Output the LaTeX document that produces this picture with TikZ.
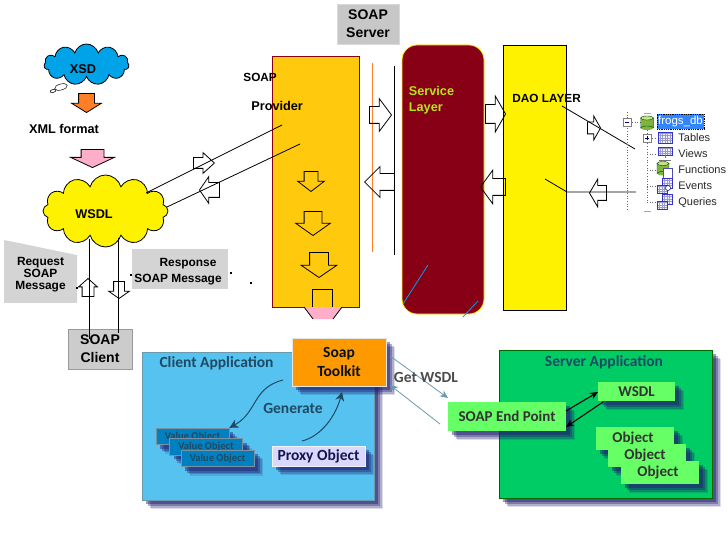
\documentclass[tikz,border=0pt]{standalone}
\usepackage{fontspec}
\setmainfont{Liberation Sans}
\newfontfamily\calfont{Carlito}
\usetikzlibrary{shapes.symbols,shapes.arrows,shapes.geometric,shadows,arrows.meta}
\definecolor{xsdblue}{HTML}{00A2E8}
\definecolor{wsdlyellow}{HTML}{FFF200}
\definecolor{provorange}{HTML}{FFC90E}
\definecolor{maroon}{HTML}{880015}
\definecolor{lime}{HTML}{B5E61D}
\definecolor{pinky}{HTML}{FFAEC9}
\definecolor{orangey}{HTML}{FF7F27}
\definecolor{skyapp}{HTML}{56C2F0}
\definecolor{darkteal}{HTML}{1F4A63}
\definecolor{greenapp}{HTML}{00CC66}
\definecolor{lightgreen}{HTML}{66FF66}
\definecolor{steel}{HTML}{6A9AAE}
\definecolor{navyshade}{HTML}{1E1E6E}
\definecolor{toolorange}{HTML}{FF9900}
\definecolor{valblue}{HTML}{0080C0}
\definecolor{drumgreen}{HTML}{7FB53C}
\definecolor{drumtop}{HTML}{C4E08A}
\tikzstyle{lbl} = [font=\bfseries\fontsize{12.7}{14}\selectfont, inner sep=0pt, align=center]
\tikzstyle{caps} = [lbl, font=\bfseries\fontsize{11.8}{14}\selectfont]
\tikzstyle{msg} = [lbl, font=\bfseries\fontsize{11.9}{12}\selectfont]
\tikzstyle{grey} = [draw=gray!80, fill=black!20, font=\bfseries\fontsize{14}{18}\selectfont, align=center, inner sep=0pt]
\tikzstyle{note} = [fill=black!17, draw=none]
\tikzstyle{app} = [font=\calfont\bfseries\fontsize{15.5}{17}\selectfont, text=darkteal, inner sep=0pt, align=center]
\tikzstyle{shade} = [general shadow={shadow xshift=9pt, shadow yshift=-9pt, fill=navyshade, opacity=.15},
  general shadow={shadow xshift=7.5pt, shadow yshift=-7.5pt, fill=navyshade, opacity=.25},
  general shadow={shadow xshift=6pt, shadow yshift=-6pt, fill=navyshade, opacity=.35},
  general shadow={shadow xshift=4pt, shadow yshift=-4pt, fill=navyshade, opacity=.45}]
\tikzstyle{greenbox} = [fill=lightgreen, draw=none, inner sep=0pt, text=black!80, font=\calfont\bfseries\fontsize{15}{17}\selectfont, shade]
\tikzstyle{valbox} = [fill=valblue, draw=darkteal!60, inner sep=0pt, minimum width=73pt, minimum height=16.5pt, text=darkteal, font=\calfont\bfseries\fontsize{10.5}{12}\selectfont, shade]
\tikzstyle{tree} = [font=\fontsize{11}{13}\selectfont, anchor=west, inner sep=0pt, text=black!85, text height=9pt, text depth=1pt]
\tikzstyle{dots} = [dotted, black!60, line width=.7pt]
\tikzstyle{tbl} = [draw=blue!60!gray, fill=blue!5, inner sep=0pt, line width=.5pt, path picture={\draw[blue!30!gray!60, line width=.4pt, step=2.5pt] (path picture bounding box.south west) grid (path picture bounding box.north east);}]
\tikzset{blockarrow/.style n args={4}{single arrow, draw=black, inner xsep=0pt, inner ysep={(#2-2*#4)/2}, minimum height=#1, minimum width=#2, single arrow tip angle={2*atan(#2/(2*#3))}, single arrow head extend=#4}}
% small database drum of the tree
\newcommand{\dbdrum}[3]{
  \fill[drumgreen] (#1-#3,#2-5) rectangle (#1+#3,#2+5);
  \fill[drumgreen] (#1,#2+5) ellipse ({#3} and 2);
  \fill[drumtop] (#1,#2-5) ellipse ({#3} and 2);
  \draw[green!30!black,line width=.4pt] (#1-#3,#2-5) -- (#1-#3,#2+5) arc (180:360:#3 and 2) -- (#1+#3,#2-5);
  \draw[green!30!black,line width=.4pt] (#1,#2-5) ellipse ({#3} and 2);
}
\begin{document}
\begin{tikzpicture}[x=1pt,y=-1pt,line width=.8pt]
  \useasboundingbox (0,0) rectangle (728,545);
  % layers
  \node[draw=maroon,fill=provorange,minimum width=87pt,minimum height=251pt,inner sep=0pt](provider) at (315.5,181.5){};
  \node[draw=wsdlyellow,fill=maroon,rounded corners=15pt,thick,minimum width=82pt,minimum height=269pt,inner sep=0pt](service) at (443,179.5){};
  \node[draw=black,fill=wsdlyellow,minimum width=63pt,minimum height=265pt,inner sep=0pt](dao) at (534.5,177.5){};
  \node[grey,fill=black!22,draw=black!15,minimum width=62pt,minimum height=40pt](server) at (368,24){SOAP\\Server};
  \node[caps,anchor=west](soap) at (243,77){SOAP};
  \node[lbl,anchor=west](prov) at (251,106){Provider};
  \node[lbl,anchor=west,text=lime](slayer) at (408.5,90.5){Service};
  \node[lbl,anchor=west,text=lime](slayer2) at (408.5,108.5){Layer};
  \node[caps,anchor=west](daotxt) at (512,98){DAO LAYER};
  % clouds
  \node[cloud,cloud puffs=11,cloud ignores aspect,draw=black,fill=xsdblue,minimum width=85pt,minimum height=41pt,inner sep=0pt](xsd) at (86.5,64.5){};
  \node[ellipse,draw=black,fill=white,line width=.5pt,minimum width=13pt,minimum height=6pt,inner sep=0pt,rotate=15](bub1) at (61,87){};
  \node[ellipse,draw=black,fill=white,line width=.5pt,minimum width=6pt,minimum height=3pt,inner sep=0pt,rotate=15](bub2) at (53,91){};
  \node[lbl](xsdtxt) at (83,69){XSD};
  \node[cloud,cloud puffs=12,cloud ignores aspect,draw=black,fill=wsdlyellow,minimum width=125pt,minimum height=72pt,inner sep=0pt](wsdl) at (105.5,211){};
  \node[lbl](wsdltxt) at (94,214){WSDL};
  \node[lbl](xmlfmt) at (64,129){XML format};
  \node[blockarrow={19}{29}{9}{7},fill=orangey,rotate=-90,anchor=tip](xsdarrow) at (86.5,113){};
  \node[blockarrow={18}{43}{10}{10.5},fill=pinky,rotate=-90,anchor=tip](xmlarrow) at (92.5,168){};
  % soap messages
  \fill[black!17] (4,240) -- (77,255) -- (77,303) -- (4,303) -- cycle;
  \node[msg](reqtxt) at (40.5,275){Request\\SOAP\\Message};
  \node[note,minimum width=96pt,minimum height=40pt,inner sep=0pt](resp) at (180,269){};
  \node[msg](resp1) at (188,264){Response};
  \node[msg](resp2) at (178,280){SOAP Message};
  \foreach \px/\py in {77/288,131/275,231/273,251/283}
    \fill (\px-.7,\py-.7) rectangle (\px+.7,\py+.7);
  \node[grey,minimum width=64pt,minimum height=40pt](client) at (100,349){SOAP\\Client};
  % lines
  \coordinate (wa) at (146,193);
  \coordinate (pa) at (282,125);
  \coordinate (wb) at (167,207);
  \coordinate (pb) at (300,144);
  \draw (wa)--(pa);
  \draw (wb)--(pb);
  \coordinate (ca) at (89,339);
  \coordinate (wc) at (89,239);
  \coordinate (cb) at (118,333);
  \coordinate (wd) at (118,238);
  \draw (wc)--(ca);
  \draw (wd)--(cb);
  \coordinate (oa) at (372,63);
  \coordinate (ob) at (372,252);
  \coordinate (ba) at (394,66);
  \coordinate (bb) at (394,255);
  \draw[orangey] (oa)--(ob);
  \draw (ba)--(bb);
  \coordinate (ta) at (562,106);
  \coordinate (tb) at (635,149);
  \coordinate (tc) at (545,179);
  \coordinate (td) at (567,192);
  \coordinate (te) at (636,192);
  \draw (ta)--(tb);
  \draw (tc)--(td)--(te);
  \coordinate (ua) at (428,265);
  \coordinate (ub) at (403,304);
  \coordinate (uc) at (478,301);
  \coordinate (ud) at (463,317);
  \draw[xsdblue] (ua)--(ub);
  \draw[xsdblue] (uc)--(ud);
  % hollow block arrows
  \node[blockarrow={21}{20}{11}{5},anchor=tip](ar1) at (215,163){};
  \node[blockarrow={20}{26}{9}{6},rotate=180,anchor=tip](ar2) at (199,190){};
  \node[blockarrow={22}{32}{12}{8},anchor=tip](ar3) at (392,115){};
  \node[blockarrow={30}{30}{15}{7},rotate=180,anchor=tip](ar4) at (364,182){};
  \node[blockarrow={20}{35}{10}{8.5},anchor=tip](ar5) at (506,114){};
  \node[blockarrow={25}{33}{12}{8.5},rotate=180,anchor=tip](ar6) at (480,187){};
  \node[blockarrow={13}{23}{6.5}{6},anchor=tip](ar7) at (601,128){};
  \node[blockarrow={17}{27}{8}{6.5},rotate=180,anchor=tip](ar8) at (589,193){};
  \node[blockarrow={20}{26}{10}{6.5},rotate=-90,anchor=tip](ar9) at (311,192){};
  \node[blockarrow={24}{34}{12}{8.5},rotate=-90,anchor=tip](ar10) at (313,236){};
  \node[blockarrow={25}{35}{12}{8.5},rotate=-90,anchor=tip](ar11) at (319,278){};
  \node[blockarrow={18}{18}{8}{3.5},rotate=90,anchor=tip](ar12) at (88,278){};
  \node[blockarrow={17}{20}{7}{5},rotate=-90,anchor=tip](ar13) at (119,299){};
  % cut off arrow under the provider
  \fill[pinky] (304,307) -- (342,307) -- (333,319) -- (313,319) -- cycle;
  \draw (304,307) -- (313,319);
  \draw (342,307) -- (333,319);
  \draw (312,307) -- (312,289) -- (332,289) -- (332,307);
  % client application
  \node[draw=steel,fill=skyapp,shade,minimum width=232pt,minimum height=148pt,inner sep=0pt](clientapp) at (258,426){};
  \node[app](clienttxt) at (216.5,363){Client Application};
  \node[draw=black!10,fill=toolorange,shade,minimum width=94pt,minimum height=48pt,inner sep=0pt,app,text=black!80!darkteal](toolkit) at (339,362){Soap\\[2pt]Toolkit};
  \node[app](gentxt) at (293,408){Generate};
  \node[valbox](vo1) at (192.5,436.5){Value Object};
  \node[valbox](vo2) at (206,447){Value Object};
  \node[valbox](vo3) at (217.5,458.5){Value Object};
  \node[draw=black!5,fill=blue!15,shade,minimum width=93pt,minimum height=20pt,inner sep=0pt,app,text=navyshade!70!black](proxy) at (318.5,456){Proxy Object};
  \coordinate (gs) at (283,380);
  \coordinate (ps) at (302,441);
  \coordinate (pe) at (342,392);
  \draw[-{Stealth[length=9pt,width=9pt]},darkteal,line width=1pt] (gs) .. controls (252,388) and (258,412) .. (vo1.north east);
  \draw[-{Stealth[length=9pt,width=9pt]},darkteal,line width=1pt] (ps) .. controls (322,436) and (336,415) .. (pe);
  % server application
  \node[draw=green!40!black,fill=greenapp,shade,minimum width=213pt,minimum height=148pt,inner sep=0pt](serverapp) at (605.5,424){};
  \node[app](servertxt) at (604,362){Server Application};
  \node[greenbox,minimum width=118pt,minimum height=29pt](endpoint) at (507,416.5){SOAP End Point};
  \node[greenbox,minimum width=77pt,minimum height=19pt](wsdlbox) at (636.5,391.5){WSDL};
  \node[greenbox,minimum width=78pt,minimum height=23pt](obj1) at (635,438.5){\hspace*{-4pt}Object};
  \node[greenbox,minimum width=78pt,minimum height=23pt](obj2) at (647,455.5){\hspace*{-4pt}Object};
  \node[greenbox,minimum width=78pt,minimum height=23pt](obj3) at (660,472.5){\hspace*{-4pt}Object};
  \coordinate (ea) at (566,411);
  \coordinate (eb) at (598,392);
  \coordinate (ec) at (603,402);
  \coordinate (ed) at (566,427);
  \draw[-{Stealth[length=8pt,width=7pt]},line width=1.1pt] (ea)--(eb);
  \draw[-{Stealth[length=8pt,width=7pt]},line width=1.1pt] (ec)--(ed);
  \coordinate (ga) at (390,356);
  \coordinate (gb) at (448,398);
  \coordinate (gc) at (440,424);
  \coordinate (gd) at (390,385);
  \draw[-{Stealth[length=8pt,width=7pt]},steel] (ga)--(gb);
  \draw[-{Stealth[length=8pt,width=7pt]},steel] (gc)--(gd);
  \node[app,text=black!70](getwsdl) at (426,377){Get WSDL};
  % database tree
  \draw[dots] (627,112)--(627,211);
  \draw[dots] (632,122)--(641,122);
  \draw[dots] (647,130)--(647,202);
  \foreach \ty in {138,154,170,186,202}
    \draw[dots] (647,\ty)--(658,\ty);
  \draw[black!35] (644,113)--(651,113);
  \draw[black!35] (644,211)--(651,211);
  \node[draw=black!50,fill=white,line width=.5pt,minimum size=8pt,inner sep=0pt](minus) at (627,122){};
  \draw[blue!50!black,line width=.5pt] (624.8,122)--(629.2,122);
  \node[draw=black!50,fill=white,line width=.5pt,minimum size=8pt,inner sep=0pt](plus) at (647,138){};
  \draw[blue!50!black,line width=.5pt] (644.8,138)--(649.2,138) (647,135.8)--(647,140.2);
  \dbdrum{647}{123}{6.5}
  \node[fill=blue!60!cyan!80,draw=black,densely dotted,minimum width=47pt,minimum height=15pt,inner sep=0pt,text=white,font=\fontsize{11.5}{13}\selectfont](frogs) at (680.5,121.5){frogs\_db};
  \node[tbl,minimum width=14pt,minimum height=11pt](ticon) at (665,138){};
  \node[tbl,minimum width=14pt,minimum height=8pt](vicon) at (665,151){};
  \draw[black!55,line width=.6pt] (665,155)--(665,158) (659,160)--(671,160);
  \dbdrum{663}{168.5}{6}
  \node[draw=blue!40!gray,fill=white,line width=.5pt,minimum width=9pt,minimum height=10pt,inner sep=0pt](fdoc) at (667.5,173){};
  \node[tbl,minimum width=10pt,minimum height=10pt](eicon) at (667,183){};
  \node[tbl,minimum width=10pt,minimum height=8pt](eicon2) at (662,189){};
  \node[circle,draw=blue!50!black,fill=white,line width=.5pt,minimum size=5pt,inner sep=0pt](gear) at (668,188){};
  \node[tbl,minimum width=10pt,minimum height=10pt](qicon) at (667,199){};
  \node[tbl,minimum width=10pt,minimum height=8pt](qicon2) at (662,205){};
  \node[tree](tables) at (678,138){Tables};
  \node[tree](views) at (678,154){Views};
  \node[tree](functions) at (678,170){Functions};
  \node[tree](events) at (678,186){Events};
  \node[tree](queries) at (678,202){Queries};
\end{tikzpicture}
\end{document}
